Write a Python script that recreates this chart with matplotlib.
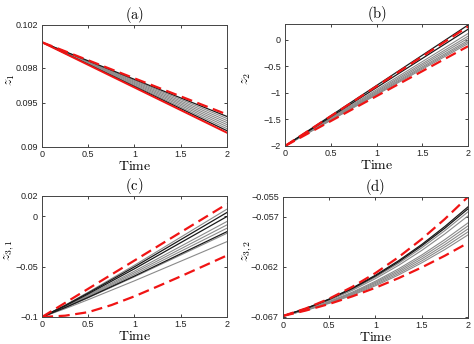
import matplotlib
matplotlib.use("Agg")
import matplotlib.pyplot as plt
import numpy as np

plt.rcParams['mathtext.fontset'] = 'cm'
plt.rcParams['font.family'] = ['Liberation Sans', 'DejaVu Sans']

RED = '#f01414'
GRAY = '#8a8a8a'
DARK = '#1a1a1a'

# ---- panel (a): z_1, straight trajectories
t_a = [0.0, 2.0]
a_red_dash = [0.1003, 0.0932]
a_red_solid = [0.1003, 0.0914]
a_black = [[0.1003, 0.0916], [0.1003, 0.0930]]
a_gray = [[0.1003, 0.0928], [0.1003, 0.0926], [0.1003, 0.0924],
          [0.1003, 0.0922], [0.1003, 0.0920], [0.1003, 0.0918]]
a_yticks = [0.09, 0.09433, 0.09777, 0.102]
a_yticklabels = ['0.09', '0.095', '0.098', '0.102']

# ---- panel (b): z_2
t_b = [0.0, 2.0]
b_red_dash = [[-2.0, 0.25], [-2.0, -0.12]]
b_black = [[-2.0, 0.28], [-2.0, 0.20]]
b_gray = [[-2.0, 0.12], [-2.0, 0.07], [-2.0, 0.03],
          [-2.0, -0.01], [-2.0, -0.04], [-2.0, -0.07]]
b_yticks = [-2, -1.5, -1, -0.5, 0]
b_yticklabels = ['\u22122', '\u22121.5', '\u22121', '\u22120.5', '0']

# ---- panel (c): z_{3,1}
t_c = [0.0, 0.25, 0.5, 0.75, 1.0, 1.25, 1.5, 1.75, 2.0]
c_red_dash = [
    [-0.1, -0.086, -0.072, -0.058, -0.044, -0.030, -0.016, -0.002, 0.012],
    [-0.1, -0.0987, -0.0952, -0.0882, -0.0795, -0.0697, -0.0597, -0.0494, -0.039],
]
c_black = [
    [-0.1, -0.0886, -0.07617, -0.06322, -0.05027, -0.0368, -0.02334, -0.00987, 0.0036],
    [-0.1, -0.08904, -0.07709, -0.06464, -0.05219, -0.03924, -0.0263, -0.01335, -0.0004],
    [-0.1, -0.09069, -0.08054, -0.06997, -0.05939, -0.04839, -0.0374, -0.0264, -0.0154],
]
c_gray = [
    [-0.1, -0.08824, -0.07541, -0.06205, -0.04869, -0.03479, -0.02089, -0.007, 0.0069],
    [-0.1, -0.08958, -0.07822, -0.06638, -0.05454, -0.04223, -0.02992, -0.01761, -0.0053],
    [-0.1, -0.08996, -0.079, -0.06759, -0.05618, -0.04431, -0.03244, -0.02057, -0.0087],
    [-0.1, -0.09032, -0.07976, -0.06876, -0.05776, -0.04632, -0.03488, -0.02344, -0.012],
    [-0.1, -0.09087, -0.08091, -0.07053, -0.06016, -0.04937, -0.03858, -0.02779, -0.017],
    [-0.1, -0.09178, -0.08282, -0.07348, -0.06414, -0.05443, -0.04472, -0.03501, -0.0253],
]
c_yticks = [-0.1, -0.05, 0, 0.02]
c_yticklabels = ['\u22120.1', '\u22120.05', '0', '0.02']

# ---- panel (d): z_{3,2}
t_d = t_c
d_red_dash = [
    [-0.0669, -0.06614, -0.06517, -0.06399, -0.06261, -0.06102, -0.05922, -0.05721, -0.0550],
    [-0.0669, -0.06635, -0.0657, -0.06494, -0.06408, -0.06312, -0.06205, -0.06088, -0.0596],
]
d_black = [
    [-0.0669, -0.06614, -0.06521, -0.06411, -0.06283, -0.06138, -0.05976, -0.05796, -0.0560],
    [-0.0669, -0.06616, -0.06524, -0.06416, -0.06291, -0.06149, -0.05989, -0.05813, -0.0562],
]
d_gray = [
    [-0.0669, -0.06618, -0.06529, -0.06424, -0.06302, -0.06164, -0.06009, -0.05837, -0.0565],
    [-0.0669, -0.0662, -0.06535, -0.06434, -0.06317, -0.06184, -0.06035, -0.0587, -0.0569],
    [-0.0669, -0.06625, -0.06546, -0.06452, -0.06343, -0.06219, -0.06081, -0.05927, -0.0576],
    [-0.0669, -0.06627, -0.0655, -0.0646, -0.06354, -0.06235, -0.061, -0.05952, -0.0579],
    [-0.0669, -0.0663, -0.06555, -0.06467, -0.06365, -0.0625, -0.0612, -0.05977, -0.0582],
    [-0.0669, -0.06632, -0.0656, -0.06475, -0.06377, -0.06265, -0.0614, -0.06001, -0.0585],
    [-0.0669, -0.06634, -0.06564, -0.06483, -0.06388, -0.0628, -0.06159, -0.06026, -0.0588],
]
d_yticks = [-0.067, -0.062, -0.057, -0.055]
d_yticklabels = ['\u22120.067', '\u22120.062', '\u22120.057', '\u22120.055']

xticks = [0, 0.5, 1, 1.5, 2]
xticklabels = ['0', '0.5', '1', '1.5', '2']


def draw_panel(ax, t, gray, black, red_dash, red_solid=None):
    for y in gray:
        ax.plot(t, y, color=GRAY, lw=0.8)
    for y in black:
        ax.plot(t, y, color=DARK, lw=0.9)
    if red_solid is not None:
        ax.plot(t, red_solid, color=RED, lw=1.4)
    for y in red_dash:
        ax.plot(t, y, color=RED, lw=1.6, ls=(0, (5, 2.5)))


def style_panel(ax, title, ylabel, ylim, yticks, yticklabels, ylab_x):
    ax.set_xlim(0, 2)
    ax.set_ylim(*ylim)
    ax.set_xticks(xticks)
    ax.set_xticklabels(xticklabels)
    ax.set_yticks(yticks)
    ax.set_yticklabels(yticklabels)
    ax.tick_params(direction='in', length=2.5, width=0.6, labelsize=6.5,
                   top=True, right=True, pad=3, colors='#222222')
    ax.tick_params(axis='x', pad=2)
    for sp in ax.spines.values():
        sp.set_linewidth(0.7)
        sp.set_color('#444444')
    ax.set_title(title, fontsize=10.5, pad=4)
    ax.set_xlabel(r'$\mathrm{Time}$', fontsize=10, labelpad=0)
    ax.set_ylabel(ylabel, fontsize=10)
    ax.yaxis.set_label_coords(ylab_x, 0.55)


fig = plt.figure(figsize=(4.74, 3.44), dpi=100)
ax_a = fig.add_axes([0.0886, 0.5727, 0.3903, 0.3547])
ax_b = fig.add_axes([0.6013, 0.5756, 0.3861, 0.3547])
ax_c = fig.add_axes([0.0886, 0.0785, 0.3903, 0.3520])
ax_d = fig.add_axes([0.5970, 0.0757, 0.3903, 0.3520])

draw_panel(ax_a, t_a, a_gray, a_black, [a_red_dash], a_red_solid)
style_panel(ax_a, r'$\mathrm{(a)}$', r'$z_1$', (0.09, 0.102),
            a_yticks, a_yticklabels, -0.135)

draw_panel(ax_b, t_b, b_gray, b_black, b_red_dash)
style_panel(ax_b, r'$\mathrm{(b)}$', r'$z_2$', (-2, 0.3),
            b_yticks, b_yticklabels, -0.175)

draw_panel(ax_c, t_c, c_gray, c_black, c_red_dash)
style_panel(ax_c, r'$\mathrm{(c)}$', r'$z_{3,1}$', (-0.1, 0.02),
            c_yticks, c_yticklabels, -0.14)

draw_panel(ax_d, t_d, d_gray, d_black, d_red_dash)
style_panel(ax_d, r'$\mathrm{(d)}$', r'$z_{3,2}$', (-0.0671, -0.055),
            d_yticks, d_yticklabels, -0.155)

fig.savefig('out.png', dpi=100)
